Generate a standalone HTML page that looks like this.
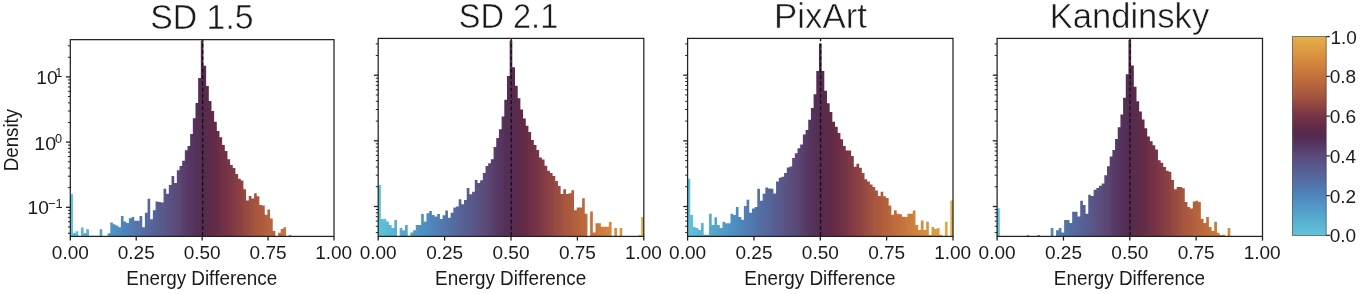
<!DOCTYPE html>
<html><head><meta charset="utf-8"><style>
html,body{margin:0;padding:0;background:#fff;width:1364px;height:294px;overflow:hidden;position:relative;font-family:"Liberation Sans",sans-serif;}
</style></head><body>
<svg width="1364" height="294" viewBox="0 0 1364 294" style="position:absolute;left:0;top:0;will-change:transform">
<defs><linearGradient id="g0" gradientUnits="userSpaceOnUse" x1="70.3" y1="0" x2="334" y2="0">
<stop offset="0.00000" stop-color="#5fc2db"/><stop offset="0.01010" stop-color="#5fc2db"/>
<stop offset="0.01010" stop-color="#5ebfda"/><stop offset="0.02020" stop-color="#5ebfda"/>
<stop offset="0.02020" stop-color="#5dbcd8"/><stop offset="0.03030" stop-color="#5dbcd8"/>
<stop offset="0.03030" stop-color="#5cb9d6"/><stop offset="0.04040" stop-color="#5cb9d6"/>
<stop offset="0.04040" stop-color="#5bb6d5"/><stop offset="0.05051" stop-color="#5bb6d5"/>
<stop offset="0.05051" stop-color="#5ab3d3"/><stop offset="0.06061" stop-color="#5ab3d3"/>
<stop offset="0.06061" stop-color="#59b0d1"/><stop offset="0.07071" stop-color="#59b0d1"/>
<stop offset="0.07071" stop-color="#58add0"/><stop offset="0.08081" stop-color="#58add0"/>
<stop offset="0.08081" stop-color="#57aace"/><stop offset="0.09091" stop-color="#57aace"/>
<stop offset="0.09091" stop-color="#55a7cd"/><stop offset="0.10101" stop-color="#55a7cd"/>
<stop offset="0.10101" stop-color="#55a4cb"/><stop offset="0.11111" stop-color="#55a4cb"/>
<stop offset="0.11111" stop-color="#54a1ca"/><stop offset="0.12121" stop-color="#54a1ca"/>
<stop offset="0.12121" stop-color="#539ec8"/><stop offset="0.13131" stop-color="#539ec8"/>
<stop offset="0.13131" stop-color="#529ac7"/><stop offset="0.14141" stop-color="#529ac7"/>
<stop offset="0.14141" stop-color="#5297c5"/><stop offset="0.15152" stop-color="#5297c5"/>
<stop offset="0.15152" stop-color="#5194c4"/><stop offset="0.16162" stop-color="#5194c4"/>
<stop offset="0.16162" stop-color="#5091c2"/><stop offset="0.17172" stop-color="#5091c2"/>
<stop offset="0.17172" stop-color="#508dc0"/><stop offset="0.18182" stop-color="#508dc0"/>
<stop offset="0.18182" stop-color="#4f8abf"/><stop offset="0.19192" stop-color="#4f8abf"/>
<stop offset="0.19192" stop-color="#4e87bd"/><stop offset="0.20202" stop-color="#4e87bd"/>
<stop offset="0.20202" stop-color="#4e84bb"/><stop offset="0.21212" stop-color="#4e84bb"/>
<stop offset="0.21212" stop-color="#4f81b7"/><stop offset="0.22222" stop-color="#4f81b7"/>
<stop offset="0.22222" stop-color="#507db4"/><stop offset="0.23232" stop-color="#507db4"/>
<stop offset="0.23232" stop-color="#517ab1"/><stop offset="0.24242" stop-color="#517ab1"/>
<stop offset="0.24242" stop-color="#5177ad"/><stop offset="0.25253" stop-color="#5177ad"/>
<stop offset="0.25253" stop-color="#5274aa"/><stop offset="0.26263" stop-color="#5274aa"/>
<stop offset="0.26263" stop-color="#5370a7"/><stop offset="0.27273" stop-color="#5370a7"/>
<stop offset="0.27273" stop-color="#536da3"/><stop offset="0.28283" stop-color="#536da3"/>
<stop offset="0.28283" stop-color="#546aa0"/><stop offset="0.29293" stop-color="#546aa0"/>
<stop offset="0.29293" stop-color="#55679d"/><stop offset="0.30303" stop-color="#55679d"/>
<stop offset="0.30303" stop-color="#556499"/><stop offset="0.31313" stop-color="#556499"/>
<stop offset="0.31313" stop-color="#566196"/><stop offset="0.32323" stop-color="#566196"/>
<stop offset="0.32323" stop-color="#575e92"/><stop offset="0.33333" stop-color="#575e92"/>
<stop offset="0.33333" stop-color="#575c8f"/><stop offset="0.34343" stop-color="#575c8f"/>
<stop offset="0.34343" stop-color="#58598c"/><stop offset="0.35354" stop-color="#58598c"/>
<stop offset="0.35354" stop-color="#595688"/><stop offset="0.36364" stop-color="#595688"/>
<stop offset="0.36364" stop-color="#595385"/><stop offset="0.37374" stop-color="#595385"/>
<stop offset="0.37374" stop-color="#5a5181"/><stop offset="0.38384" stop-color="#5a5181"/>
<stop offset="0.38384" stop-color="#5a4e7e"/><stop offset="0.39394" stop-color="#5a4e7e"/>
<stop offset="0.39394" stop-color="#5b4b7a"/><stop offset="0.40404" stop-color="#5b4b7a"/>
<stop offset="0.40404" stop-color="#5a4876"/><stop offset="0.41414" stop-color="#5a4876"/>
<stop offset="0.41414" stop-color="#594472"/><stop offset="0.42424" stop-color="#594472"/>
<stop offset="0.42424" stop-color="#58406d"/><stop offset="0.43434" stop-color="#58406d"/>
<stop offset="0.43434" stop-color="#573c69"/><stop offset="0.44444" stop-color="#573c69"/>
<stop offset="0.44444" stop-color="#563864"/><stop offset="0.45455" stop-color="#563864"/>
<stop offset="0.45455" stop-color="#553660"/><stop offset="0.46465" stop-color="#553660"/>
<stop offset="0.46465" stop-color="#55335c"/><stop offset="0.47475" stop-color="#55335c"/>
<stop offset="0.47475" stop-color="#543058"/><stop offset="0.48485" stop-color="#543058"/>
<stop offset="0.48485" stop-color="#542e54"/><stop offset="0.49495" stop-color="#542e54"/>
<stop offset="0.49495" stop-color="#532b50"/><stop offset="0.50505" stop-color="#532b50"/>
<stop offset="0.50505" stop-color="#562b4e"/><stop offset="0.51515" stop-color="#562b4e"/>
<stop offset="0.51515" stop-color="#5a2b4c"/><stop offset="0.52525" stop-color="#5a2b4c"/>
<stop offset="0.52525" stop-color="#5d2b4a"/><stop offset="0.53535" stop-color="#5d2b4a"/>
<stop offset="0.53535" stop-color="#612b48"/><stop offset="0.54545" stop-color="#612b48"/>
<stop offset="0.54545" stop-color="#642b46"/><stop offset="0.55556" stop-color="#642b46"/>
<stop offset="0.55556" stop-color="#682d46"/><stop offset="0.56566" stop-color="#682d46"/>
<stop offset="0.56566" stop-color="#6c2f46"/><stop offset="0.57576" stop-color="#6c2f46"/>
<stop offset="0.57576" stop-color="#703146"/><stop offset="0.58586" stop-color="#703146"/>
<stop offset="0.58586" stop-color="#743246"/><stop offset="0.59596" stop-color="#743246"/>
<stop offset="0.59596" stop-color="#783446"/><stop offset="0.60606" stop-color="#783446"/>
<stop offset="0.60606" stop-color="#7d3845"/><stop offset="0.61616" stop-color="#7d3845"/>
<stop offset="0.61616" stop-color="#823b45"/><stop offset="0.62626" stop-color="#823b45"/>
<stop offset="0.62626" stop-color="#863e44"/><stop offset="0.63636" stop-color="#863e44"/>
<stop offset="0.63636" stop-color="#8b4143"/><stop offset="0.64646" stop-color="#8b4143"/>
<stop offset="0.64646" stop-color="#8f4442"/><stop offset="0.65657" stop-color="#8f4442"/>
<stop offset="0.65657" stop-color="#944842"/><stop offset="0.66667" stop-color="#944842"/>
<stop offset="0.66667" stop-color="#984b41"/><stop offset="0.67677" stop-color="#984b41"/>
<stop offset="0.67677" stop-color="#9d4e40"/><stop offset="0.68687" stop-color="#9d4e40"/>
<stop offset="0.68687" stop-color="#a15140"/><stop offset="0.69697" stop-color="#a15140"/>
<stop offset="0.69697" stop-color="#a6553f"/><stop offset="0.70707" stop-color="#a6553f"/>
<stop offset="0.70707" stop-color="#a9573f"/><stop offset="0.71717" stop-color="#a9573f"/>
<stop offset="0.71717" stop-color="#ac5a3e"/><stop offset="0.72727" stop-color="#ac5a3e"/>
<stop offset="0.72727" stop-color="#af5d3e"/><stop offset="0.73737" stop-color="#af5d3e"/>
<stop offset="0.73737" stop-color="#b2603e"/><stop offset="0.74747" stop-color="#b2603e"/>
<stop offset="0.74747" stop-color="#b5633d"/><stop offset="0.75758" stop-color="#b5633d"/>
<stop offset="0.75758" stop-color="#b8663d"/><stop offset="0.76768" stop-color="#b8663d"/>
<stop offset="0.76768" stop-color="#bc683d"/><stop offset="0.77778" stop-color="#bc683d"/>
<stop offset="0.77778" stop-color="#bf6b3d"/><stop offset="0.78788" stop-color="#bf6b3d"/>
<stop offset="0.78788" stop-color="#c26e3c"/><stop offset="0.79798" stop-color="#c26e3c"/>
<stop offset="0.79798" stop-color="#c5713c"/><stop offset="0.80808" stop-color="#c5713c"/>
<stop offset="0.80808" stop-color="#c7743c"/><stop offset="0.81818" stop-color="#c7743c"/>
<stop offset="0.81818" stop-color="#c9773c"/><stop offset="0.82828" stop-color="#c9773c"/>
<stop offset="0.82828" stop-color="#cb7b3d"/><stop offset="0.83838" stop-color="#cb7b3d"/>
<stop offset="0.83838" stop-color="#cd7e3d"/><stop offset="0.84848" stop-color="#cd7e3d"/>
<stop offset="0.84848" stop-color="#cf813d"/><stop offset="0.85859" stop-color="#cf813d"/>
<stop offset="0.85859" stop-color="#d1843d"/><stop offset="0.86869" stop-color="#d1843d"/>
<stop offset="0.86869" stop-color="#d3883d"/><stop offset="0.87879" stop-color="#d3883d"/>
<stop offset="0.87879" stop-color="#d68b3e"/><stop offset="0.88889" stop-color="#d68b3e"/>
<stop offset="0.88889" stop-color="#d88e3e"/><stop offset="0.89899" stop-color="#d88e3e"/>
<stop offset="0.89899" stop-color="#d9913e"/><stop offset="0.90909" stop-color="#d9913e"/>
<stop offset="0.90909" stop-color="#da9540"/><stop offset="0.91919" stop-color="#da9540"/>
<stop offset="0.91919" stop-color="#db9841"/><stop offset="0.92929" stop-color="#db9841"/>
<stop offset="0.92929" stop-color="#dc9b42"/><stop offset="0.93939" stop-color="#dc9b42"/>
<stop offset="0.93939" stop-color="#dd9e43"/><stop offset="0.94949" stop-color="#dd9e43"/>
<stop offset="0.94949" stop-color="#dea145"/><stop offset="0.95960" stop-color="#dea145"/>
<stop offset="0.95960" stop-color="#dfa546"/><stop offset="0.96970" stop-color="#dfa546"/>
<stop offset="0.96970" stop-color="#e0a847"/><stop offset="0.97980" stop-color="#e0a847"/>
<stop offset="0.97980" stop-color="#e1ab48"/><stop offset="0.98990" stop-color="#e1ab48"/>
<stop offset="0.98990" stop-color="#e2ae49"/><stop offset="1.00000" stop-color="#e2ae49"/>
</linearGradient></defs>
<path d="M70.3 236.4V193.9H72.96V236.4ZM72.96 236.4V233H75.63V236.4ZM75.63 236.4V231.3H78.29V236.4ZM80.95 236.4V227.5H83.62V236.4ZM83.62 236.4V233H86.28V236.4ZM86.28 236.4V229.2H88.95V236.4ZM91.61 236.4V235.7H94.27V236.4ZM99.6 236.4V229.2H102.26V236.4ZM107.59 236.4V233.3H110.25V236.4ZM110.25 236.4V222.6H112.92V236.4ZM112.92 236.4V224.2H115.58V236.4ZM115.58 236.4V225.5H118.25V236.4ZM118.25 236.4V227.3H120.91V236.4ZM120.91 236.4V216.1H123.57V236.4ZM123.57 236.4V221.4H126.24V236.4ZM126.24 236.4V222.9H128.9V236.4ZM128.9 236.4V218.2H131.56V236.4ZM131.56 236.4V217.1H134.23V236.4ZM134.23 236.4V220.8H136.89V236.4ZM136.89 236.4V220.8H139.55V236.4ZM139.55 236.4V216.1H142.22V236.4ZM142.22 236.4V227.3H144.88V236.4ZM144.88 236.4V212.7H147.55V236.4ZM147.55 236.4V198.8H150.21V236.4ZM150.21 236.4V219.2H152.87V236.4ZM152.87 236.4V210.2H155.54V236.4ZM155.54 236.4V201.4H158.2V236.4ZM158.2 236.4V202H160.86V236.4ZM160.86 236.4V202.4H163.53V236.4ZM163.53 236.4V188.8H166.19V236.4ZM166.19 236.4V193.7H168.85V236.4ZM168.85 236.4V185.1H171.52V236.4ZM171.52 236.4V176H174.18V236.4ZM174.18 236.4V183.1H176.85V236.4ZM176.85 236.4V170.2H179.51V236.4ZM179.51 236.4V166.1H182.17V236.4ZM182.17 236.4V160.7H184.84V236.4ZM184.84 236.4V150.2H187.5V236.4ZM187.5 236.4V146.1H190.16V236.4ZM190.16 236.4V134.1H192.83V236.4ZM192.83 236.4V118.3H195.49V236.4ZM195.49 236.4V103H198.15V236.4ZM198.15 236.4V77.9H200.82V236.4ZM200.82 236.4V40.5H203.48V236.4ZM203.48 236.4V65.7H206.15V236.4ZM206.15 236.4V86.1H208.81V236.4ZM208.81 236.4V101H211.47V236.4ZM211.47 236.4V111.1H214.14V236.4ZM214.14 236.4V121.7H216.8V236.4ZM216.8 236.4V131.1H219.46V236.4ZM219.46 236.4V137.3H222.13V236.4ZM222.13 236.4V144.9H224.79V236.4ZM224.79 236.4V151H227.45V236.4ZM227.45 236.4V159.2H230.12V236.4ZM230.12 236.4V164.9H232.78V236.4ZM232.78 236.4V168H235.45V236.4ZM235.45 236.4V174.1H238.11V236.4ZM238.11 236.4V178.8H240.77V236.4ZM240.77 236.4V180.5H243.44V236.4ZM243.44 236.4V189.2H246.1V236.4ZM246.1 236.4V200.4H248.76V236.4ZM248.76 236.4V195.9H251.43V236.4ZM251.43 236.4V198.4H254.09V236.4ZM254.09 236.4V193.3H256.75V236.4ZM256.75 236.4V196.3H259.42V236.4ZM259.42 236.4V204.9H262.08V236.4ZM262.08 236.4V205.5H264.75V236.4ZM264.75 236.4V214.7H267.41V236.4ZM267.41 236.4V209.6H270.07V236.4ZM270.07 236.4V218.4H272.74V236.4ZM272.74 236.4V231H275.4V236.4ZM278.06 236.4V232.7H280.73V236.4ZM280.73 236.4V229H283.39V236.4ZM283.39 236.4V227.3H286.05V236.4ZM288.72 236.4V235H291.38V236.4Z" fill="url(#g0)"/>
<line x1="202.65" y1="236.4" x2="202.65" y2="39.65" stroke="#111" stroke-width="1.25" stroke-dasharray="3.9,2.38" stroke-dashoffset="5.83"/>
<rect x="70.3" y="39.65" width="263.7" height="196.75" fill="none" stroke="#222" stroke-width="1.25"/>
<line x1="70.3" y1="236.4" x2="70.3" y2="240.6" stroke="#222" stroke-width="1.3"/>
<text transform="translate(51.81 259.30) scale(1.0000 1)" font-size="19.00" font-family="Liberation Sans, sans-serif" fill="#1a1a1a" style="font-kerning:none" >0.00</text>
<line x1="136.22" y1="236.4" x2="136.22" y2="240.6" stroke="#222" stroke-width="1.3"/>
<text transform="translate(117.76 259.30) scale(1.0000 1)" font-size="19.00" font-family="Liberation Sans, sans-serif" fill="#1a1a1a" style="font-kerning:none" >0.25</text>
<line x1="202.15" y1="236.4" x2="202.15" y2="240.6" stroke="#222" stroke-width="1.3"/>
<text transform="translate(183.66 259.30) scale(1.0000 1)" font-size="19.00" font-family="Liberation Sans, sans-serif" fill="#1a1a1a" style="font-kerning:none" >0.50</text>
<line x1="268.07" y1="236.4" x2="268.07" y2="240.6" stroke="#222" stroke-width="1.3"/>
<text transform="translate(249.61 259.30) scale(1.0000 1)" font-size="19.00" font-family="Liberation Sans, sans-serif" fill="#1a1a1a" style="font-kerning:none" >0.75</text>
<line x1="334" y1="236.4" x2="334" y2="240.6" stroke="#222" stroke-width="1.3"/>
<text transform="translate(315.16 259.30) scale(1.0000 1)" font-size="19.00" font-family="Liberation Sans, sans-serif" fill="#1a1a1a" style="font-kerning:none" >1.00</text>
<line x1="67.9" y1="233.25" x2="70.3" y2="233.25" stroke="#222" stroke-width="1.0"/>
<line x1="67.9" y1="226.93" x2="70.3" y2="226.93" stroke="#222" stroke-width="1.0"/>
<line x1="67.9" y1="221.76" x2="70.3" y2="221.76" stroke="#222" stroke-width="1.0"/>
<line x1="67.9" y1="217.4" x2="70.3" y2="217.4" stroke="#222" stroke-width="1.0"/>
<line x1="67.9" y1="213.62" x2="70.3" y2="213.62" stroke="#222" stroke-width="1.0"/>
<line x1="67.9" y1="210.28" x2="70.3" y2="210.28" stroke="#222" stroke-width="1.0"/>
<line x1="66" y1="207.3" x2="70.3" y2="207.3" stroke="#222" stroke-width="1.3"/>
<line x1="67.9" y1="187.67" x2="70.3" y2="187.67" stroke="#222" stroke-width="1.0"/>
<line x1="67.9" y1="176.19" x2="70.3" y2="176.19" stroke="#222" stroke-width="1.0"/>
<line x1="67.9" y1="168.05" x2="70.3" y2="168.05" stroke="#222" stroke-width="1.0"/>
<line x1="67.9" y1="161.73" x2="70.3" y2="161.73" stroke="#222" stroke-width="1.0"/>
<line x1="67.9" y1="156.56" x2="70.3" y2="156.56" stroke="#222" stroke-width="1.0"/>
<line x1="67.9" y1="152.2" x2="70.3" y2="152.2" stroke="#222" stroke-width="1.0"/>
<line x1="67.9" y1="148.42" x2="70.3" y2="148.42" stroke="#222" stroke-width="1.0"/>
<line x1="67.9" y1="145.08" x2="70.3" y2="145.08" stroke="#222" stroke-width="1.0"/>
<line x1="66" y1="142.1" x2="70.3" y2="142.1" stroke="#222" stroke-width="1.3"/>
<line x1="67.9" y1="122.47" x2="70.3" y2="122.47" stroke="#222" stroke-width="1.0"/>
<line x1="67.9" y1="110.99" x2="70.3" y2="110.99" stroke="#222" stroke-width="1.0"/>
<line x1="67.9" y1="102.85" x2="70.3" y2="102.85" stroke="#222" stroke-width="1.0"/>
<line x1="67.9" y1="96.53" x2="70.3" y2="96.53" stroke="#222" stroke-width="1.0"/>
<line x1="67.9" y1="91.36" x2="70.3" y2="91.36" stroke="#222" stroke-width="1.0"/>
<line x1="67.9" y1="87" x2="70.3" y2="87" stroke="#222" stroke-width="1.0"/>
<line x1="67.9" y1="83.22" x2="70.3" y2="83.22" stroke="#222" stroke-width="1.0"/>
<line x1="67.9" y1="79.88" x2="70.3" y2="79.88" stroke="#222" stroke-width="1.0"/>
<line x1="66" y1="76.9" x2="70.3" y2="76.9" stroke="#222" stroke-width="1.3"/>
<line x1="67.9" y1="57.27" x2="70.3" y2="57.27" stroke="#222" stroke-width="1.0"/>
<line x1="67.9" y1="45.79" x2="70.3" y2="45.79" stroke="#222" stroke-width="1.0"/>
<text transform="translate(150.16 28.90) scale(0.9453 1)" font-size="35.80" font-family="Liberation Sans, sans-serif" fill="#1a1a1a" style="font-kerning:none"  stroke="#fff" stroke-width="0.5">SD 1.5</text>
<text transform="translate(126.35 284.80) scale(0.9628 1)" font-size="19.60" font-family="Liberation Sans, sans-serif" fill="#1a1a1a" style="font-kerning:none" >Energy Difference</text>
<defs><linearGradient id="g1" gradientUnits="userSpaceOnUse" x1="378.2" y1="0" x2="643.8" y2="0">
<stop offset="0.00000" stop-color="#5fc2db"/><stop offset="0.01010" stop-color="#5fc2db"/>
<stop offset="0.01010" stop-color="#5ebfda"/><stop offset="0.02020" stop-color="#5ebfda"/>
<stop offset="0.02020" stop-color="#5dbcd8"/><stop offset="0.03030" stop-color="#5dbcd8"/>
<stop offset="0.03030" stop-color="#5cb9d6"/><stop offset="0.04040" stop-color="#5cb9d6"/>
<stop offset="0.04040" stop-color="#5bb6d5"/><stop offset="0.05051" stop-color="#5bb6d5"/>
<stop offset="0.05051" stop-color="#5ab3d3"/><stop offset="0.06061" stop-color="#5ab3d3"/>
<stop offset="0.06061" stop-color="#59b0d1"/><stop offset="0.07071" stop-color="#59b0d1"/>
<stop offset="0.07071" stop-color="#58add0"/><stop offset="0.08081" stop-color="#58add0"/>
<stop offset="0.08081" stop-color="#57aace"/><stop offset="0.09091" stop-color="#57aace"/>
<stop offset="0.09091" stop-color="#55a7cd"/><stop offset="0.10101" stop-color="#55a7cd"/>
<stop offset="0.10101" stop-color="#55a4cb"/><stop offset="0.11111" stop-color="#55a4cb"/>
<stop offset="0.11111" stop-color="#54a1ca"/><stop offset="0.12121" stop-color="#54a1ca"/>
<stop offset="0.12121" stop-color="#539ec8"/><stop offset="0.13131" stop-color="#539ec8"/>
<stop offset="0.13131" stop-color="#529ac7"/><stop offset="0.14141" stop-color="#529ac7"/>
<stop offset="0.14141" stop-color="#5297c5"/><stop offset="0.15152" stop-color="#5297c5"/>
<stop offset="0.15152" stop-color="#5194c4"/><stop offset="0.16162" stop-color="#5194c4"/>
<stop offset="0.16162" stop-color="#5091c2"/><stop offset="0.17172" stop-color="#5091c2"/>
<stop offset="0.17172" stop-color="#508dc0"/><stop offset="0.18182" stop-color="#508dc0"/>
<stop offset="0.18182" stop-color="#4f8abf"/><stop offset="0.19192" stop-color="#4f8abf"/>
<stop offset="0.19192" stop-color="#4e87bd"/><stop offset="0.20202" stop-color="#4e87bd"/>
<stop offset="0.20202" stop-color="#4e84bb"/><stop offset="0.21212" stop-color="#4e84bb"/>
<stop offset="0.21212" stop-color="#4f81b7"/><stop offset="0.22222" stop-color="#4f81b7"/>
<stop offset="0.22222" stop-color="#507db4"/><stop offset="0.23232" stop-color="#507db4"/>
<stop offset="0.23232" stop-color="#517ab1"/><stop offset="0.24242" stop-color="#517ab1"/>
<stop offset="0.24242" stop-color="#5177ad"/><stop offset="0.25253" stop-color="#5177ad"/>
<stop offset="0.25253" stop-color="#5274aa"/><stop offset="0.26263" stop-color="#5274aa"/>
<stop offset="0.26263" stop-color="#5370a7"/><stop offset="0.27273" stop-color="#5370a7"/>
<stop offset="0.27273" stop-color="#536da3"/><stop offset="0.28283" stop-color="#536da3"/>
<stop offset="0.28283" stop-color="#546aa0"/><stop offset="0.29293" stop-color="#546aa0"/>
<stop offset="0.29293" stop-color="#55679d"/><stop offset="0.30303" stop-color="#55679d"/>
<stop offset="0.30303" stop-color="#556499"/><stop offset="0.31313" stop-color="#556499"/>
<stop offset="0.31313" stop-color="#566196"/><stop offset="0.32323" stop-color="#566196"/>
<stop offset="0.32323" stop-color="#575e92"/><stop offset="0.33333" stop-color="#575e92"/>
<stop offset="0.33333" stop-color="#575c8f"/><stop offset="0.34343" stop-color="#575c8f"/>
<stop offset="0.34343" stop-color="#58598c"/><stop offset="0.35354" stop-color="#58598c"/>
<stop offset="0.35354" stop-color="#595688"/><stop offset="0.36364" stop-color="#595688"/>
<stop offset="0.36364" stop-color="#595385"/><stop offset="0.37374" stop-color="#595385"/>
<stop offset="0.37374" stop-color="#5a5181"/><stop offset="0.38384" stop-color="#5a5181"/>
<stop offset="0.38384" stop-color="#5a4e7e"/><stop offset="0.39394" stop-color="#5a4e7e"/>
<stop offset="0.39394" stop-color="#5b4b7a"/><stop offset="0.40404" stop-color="#5b4b7a"/>
<stop offset="0.40404" stop-color="#5a4876"/><stop offset="0.41414" stop-color="#5a4876"/>
<stop offset="0.41414" stop-color="#594472"/><stop offset="0.42424" stop-color="#594472"/>
<stop offset="0.42424" stop-color="#58406d"/><stop offset="0.43434" stop-color="#58406d"/>
<stop offset="0.43434" stop-color="#573c69"/><stop offset="0.44444" stop-color="#573c69"/>
<stop offset="0.44444" stop-color="#563864"/><stop offset="0.45455" stop-color="#563864"/>
<stop offset="0.45455" stop-color="#553660"/><stop offset="0.46465" stop-color="#553660"/>
<stop offset="0.46465" stop-color="#55335c"/><stop offset="0.47475" stop-color="#55335c"/>
<stop offset="0.47475" stop-color="#543058"/><stop offset="0.48485" stop-color="#543058"/>
<stop offset="0.48485" stop-color="#542e54"/><stop offset="0.49495" stop-color="#542e54"/>
<stop offset="0.49495" stop-color="#532b50"/><stop offset="0.50505" stop-color="#532b50"/>
<stop offset="0.50505" stop-color="#562b4e"/><stop offset="0.51515" stop-color="#562b4e"/>
<stop offset="0.51515" stop-color="#5a2b4c"/><stop offset="0.52525" stop-color="#5a2b4c"/>
<stop offset="0.52525" stop-color="#5d2b4a"/><stop offset="0.53535" stop-color="#5d2b4a"/>
<stop offset="0.53535" stop-color="#612b48"/><stop offset="0.54545" stop-color="#612b48"/>
<stop offset="0.54545" stop-color="#642b46"/><stop offset="0.55556" stop-color="#642b46"/>
<stop offset="0.55556" stop-color="#682d46"/><stop offset="0.56566" stop-color="#682d46"/>
<stop offset="0.56566" stop-color="#6c2f46"/><stop offset="0.57576" stop-color="#6c2f46"/>
<stop offset="0.57576" stop-color="#703146"/><stop offset="0.58586" stop-color="#703146"/>
<stop offset="0.58586" stop-color="#743246"/><stop offset="0.59596" stop-color="#743246"/>
<stop offset="0.59596" stop-color="#783446"/><stop offset="0.60606" stop-color="#783446"/>
<stop offset="0.60606" stop-color="#7d3845"/><stop offset="0.61616" stop-color="#7d3845"/>
<stop offset="0.61616" stop-color="#823b45"/><stop offset="0.62626" stop-color="#823b45"/>
<stop offset="0.62626" stop-color="#863e44"/><stop offset="0.63636" stop-color="#863e44"/>
<stop offset="0.63636" stop-color="#8b4143"/><stop offset="0.64646" stop-color="#8b4143"/>
<stop offset="0.64646" stop-color="#8f4442"/><stop offset="0.65657" stop-color="#8f4442"/>
<stop offset="0.65657" stop-color="#944842"/><stop offset="0.66667" stop-color="#944842"/>
<stop offset="0.66667" stop-color="#984b41"/><stop offset="0.67677" stop-color="#984b41"/>
<stop offset="0.67677" stop-color="#9d4e40"/><stop offset="0.68687" stop-color="#9d4e40"/>
<stop offset="0.68687" stop-color="#a15140"/><stop offset="0.69697" stop-color="#a15140"/>
<stop offset="0.69697" stop-color="#a6553f"/><stop offset="0.70707" stop-color="#a6553f"/>
<stop offset="0.70707" stop-color="#a9573f"/><stop offset="0.71717" stop-color="#a9573f"/>
<stop offset="0.71717" stop-color="#ac5a3e"/><stop offset="0.72727" stop-color="#ac5a3e"/>
<stop offset="0.72727" stop-color="#af5d3e"/><stop offset="0.73737" stop-color="#af5d3e"/>
<stop offset="0.73737" stop-color="#b2603e"/><stop offset="0.74747" stop-color="#b2603e"/>
<stop offset="0.74747" stop-color="#b5633d"/><stop offset="0.75758" stop-color="#b5633d"/>
<stop offset="0.75758" stop-color="#b8663d"/><stop offset="0.76768" stop-color="#b8663d"/>
<stop offset="0.76768" stop-color="#bc683d"/><stop offset="0.77778" stop-color="#bc683d"/>
<stop offset="0.77778" stop-color="#bf6b3d"/><stop offset="0.78788" stop-color="#bf6b3d"/>
<stop offset="0.78788" stop-color="#c26e3c"/><stop offset="0.79798" stop-color="#c26e3c"/>
<stop offset="0.79798" stop-color="#c5713c"/><stop offset="0.80808" stop-color="#c5713c"/>
<stop offset="0.80808" stop-color="#c7743c"/><stop offset="0.81818" stop-color="#c7743c"/>
<stop offset="0.81818" stop-color="#c9773c"/><stop offset="0.82828" stop-color="#c9773c"/>
<stop offset="0.82828" stop-color="#cb7b3d"/><stop offset="0.83838" stop-color="#cb7b3d"/>
<stop offset="0.83838" stop-color="#cd7e3d"/><stop offset="0.84848" stop-color="#cd7e3d"/>
<stop offset="0.84848" stop-color="#cf813d"/><stop offset="0.85859" stop-color="#cf813d"/>
<stop offset="0.85859" stop-color="#d1843d"/><stop offset="0.86869" stop-color="#d1843d"/>
<stop offset="0.86869" stop-color="#d3883d"/><stop offset="0.87879" stop-color="#d3883d"/>
<stop offset="0.87879" stop-color="#d68b3e"/><stop offset="0.88889" stop-color="#d68b3e"/>
<stop offset="0.88889" stop-color="#d88e3e"/><stop offset="0.89899" stop-color="#d88e3e"/>
<stop offset="0.89899" stop-color="#d9913e"/><stop offset="0.90909" stop-color="#d9913e"/>
<stop offset="0.90909" stop-color="#da9540"/><stop offset="0.91919" stop-color="#da9540"/>
<stop offset="0.91919" stop-color="#db9841"/><stop offset="0.92929" stop-color="#db9841"/>
<stop offset="0.92929" stop-color="#dc9b42"/><stop offset="0.93939" stop-color="#dc9b42"/>
<stop offset="0.93939" stop-color="#dd9e43"/><stop offset="0.94949" stop-color="#dd9e43"/>
<stop offset="0.94949" stop-color="#dea145"/><stop offset="0.95960" stop-color="#dea145"/>
<stop offset="0.95960" stop-color="#dfa546"/><stop offset="0.96970" stop-color="#dfa546"/>
<stop offset="0.96970" stop-color="#e0a847"/><stop offset="0.97980" stop-color="#e0a847"/>
<stop offset="0.97980" stop-color="#e1ab48"/><stop offset="0.98990" stop-color="#e1ab48"/>
<stop offset="0.98990" stop-color="#e2ae49"/><stop offset="1.00000" stop-color="#e2ae49"/>
</linearGradient></defs>
<path d="M378.2 236.4V185.1H380.88V236.4ZM380.88 236.4V219H383.57V236.4ZM383.57 236.4V219H386.25V236.4ZM386.25 236.4V221.6H388.93V236.4ZM388.93 236.4V225.1H391.61V236.4ZM391.61 236.4V228H394.3V236.4ZM394.3 236.4V220.1H396.98V236.4ZM399.66 236.4V228H402.35V236.4ZM402.35 236.4V230.3H405.03V236.4ZM405.03 236.4V224.9H407.71V236.4ZM407.71 236.4V235.8H410.39V236.4ZM410.39 236.4V232.4H413.08V236.4ZM413.08 236.4V230.3H415.76V236.4ZM415.76 236.4V225.1H418.44V236.4ZM418.44 236.4V225.1H421.13V236.4ZM421.13 236.4V213.9H423.81V236.4ZM423.81 236.4V221.6H426.49V236.4ZM426.49 236.4V213.2H429.17V236.4ZM429.17 236.4V210.9H431.86V236.4ZM431.86 236.4V215H434.54V236.4ZM434.54 236.4V216.6H437.22V236.4ZM437.22 236.4V213.9H439.91V236.4ZM439.91 236.4V219H442.59V236.4ZM442.59 236.4V215.3H445.27V236.4ZM445.27 236.4V210.6H447.95V236.4ZM447.95 236.4V217.8H450.64V236.4ZM450.64 236.4V212.7H453.32V236.4ZM453.32 236.4V207.6H456V236.4ZM456 236.4V206.5H458.68V236.4ZM458.68 236.4V199.2H461.37V236.4ZM461.37 236.4V204.2H464.05V236.4ZM464.05 236.4V200H466.73V236.4ZM466.73 236.4V188H469.42V236.4ZM469.42 236.4V194.3H472.1V236.4ZM472.1 236.4V191.8H474.78V236.4ZM474.78 236.4V180.1H477.46V236.4ZM477.46 236.4V183.1H480.15V236.4ZM480.15 236.4V180.2H482.83V236.4ZM482.83 236.4V172.9H485.51V236.4ZM485.51 236.4V165.9H488.2V236.4ZM488.2 236.4V163.3H490.88V236.4ZM490.88 236.4V159.2H493.56V236.4ZM493.56 236.4V147.1H496.24V236.4ZM496.24 236.4V138H498.93V236.4ZM498.93 236.4V129.2H501.61V236.4ZM501.61 236.4V116.5H504.29V236.4ZM504.29 236.4V99.8H506.98V236.4ZM506.98 236.4V76.1H509.66V236.4ZM509.66 236.4V40.5H512.34V236.4ZM512.34 236.4V67.3H515.02V236.4ZM515.02 236.4V85.8H517.71V236.4ZM517.71 236.4V98.2H520.39V236.4ZM520.39 236.4V109.4H523.07V236.4ZM523.07 236.4V118.6H525.76V236.4ZM525.76 236.4V125.7H528.44V236.4ZM528.44 236.4V131.9H531.12V236.4ZM531.12 236.4V140.1H533.8V236.4ZM533.8 236.4V144.9H536.49V236.4ZM536.49 236.4V150H539.17V236.4ZM539.17 236.4V157.6H541.85V236.4ZM541.85 236.4V159.6H544.54V236.4ZM544.54 236.4V165.7H547.22V236.4ZM547.22 236.4V170.8H549.9V236.4ZM549.9 236.4V172.9H552.58V236.4ZM552.58 236.4V175.9H555.27V236.4ZM555.27 236.4V181H557.95V236.4ZM557.95 236.4V186.1H560.63V236.4ZM560.63 236.4V193.9H563.32V236.4ZM563.32 236.4V189.2H566V236.4ZM566 236.4V193.9H568.68V236.4ZM568.68 236.4V193.3H571.36V236.4ZM571.36 236.4V190.2H574.05V236.4ZM574.05 236.4V210.2H576.73V236.4ZM576.73 236.4V207.6H579.41V236.4ZM579.41 236.4V207.6H582.09V236.4ZM582.09 236.4V198.3H584.78V236.4ZM584.78 236.4V213.7H587.46V236.4ZM590.14 236.4V211.6H592.83V236.4ZM592.83 236.4V232.4H595.51V236.4ZM595.51 236.4V223.2H598.19V236.4ZM598.19 236.4V223.2H600.87V236.4ZM600.87 236.4V226.7H603.56V236.4ZM603.56 236.4V226.7H606.24V236.4ZM606.24 236.4V226.7H608.92V236.4ZM608.92 236.4V221.9H611.61V236.4ZM614.29 236.4V228.1H616.97V236.4ZM619.65 236.4V228.1H622.34V236.4ZM638.43 236.4V235H641.12V236.4ZM641.12 236.4V217.1H643.8V236.4Z" fill="url(#g1)"/>
<line x1="511.25" y1="236.4" x2="511.25" y2="38.4" stroke="#111" stroke-width="1.25" stroke-dasharray="3.9,2.38" stroke-dashoffset="5.83"/>
<rect x="378.2" y="38.4" width="265.6" height="198" fill="none" stroke="#222" stroke-width="1.25"/>
<line x1="378.2" y1="236.4" x2="378.2" y2="240.6" stroke="#222" stroke-width="1.3"/>
<text transform="translate(359.71 259.30) scale(1.0000 1)" font-size="19.00" font-family="Liberation Sans, sans-serif" fill="#1a1a1a" style="font-kerning:none" >0.00</text>
<line x1="444.6" y1="236.4" x2="444.6" y2="240.6" stroke="#222" stroke-width="1.3"/>
<text transform="translate(426.14 259.30) scale(1.0000 1)" font-size="19.00" font-family="Liberation Sans, sans-serif" fill="#1a1a1a" style="font-kerning:none" >0.25</text>
<line x1="511" y1="236.4" x2="511" y2="240.6" stroke="#222" stroke-width="1.3"/>
<text transform="translate(492.51 259.30) scale(1.0000 1)" font-size="19.00" font-family="Liberation Sans, sans-serif" fill="#1a1a1a" style="font-kerning:none" >0.50</text>
<line x1="577.4" y1="236.4" x2="577.4" y2="240.6" stroke="#222" stroke-width="1.3"/>
<text transform="translate(558.94 259.30) scale(1.0000 1)" font-size="19.00" font-family="Liberation Sans, sans-serif" fill="#1a1a1a" style="font-kerning:none" >0.75</text>
<line x1="643.8" y1="236.4" x2="643.8" y2="240.6" stroke="#222" stroke-width="1.3"/>
<text transform="translate(624.96 259.30) scale(1.0000 1)" font-size="19.00" font-family="Liberation Sans, sans-serif" fill="#1a1a1a" style="font-kerning:none" >1.00</text>
<line x1="375.8" y1="232.62" x2="378.2" y2="232.62" stroke="#222" stroke-width="1.0"/>
<line x1="375.8" y1="226.26" x2="378.2" y2="226.26" stroke="#222" stroke-width="1.0"/>
<line x1="375.8" y1="221.06" x2="378.2" y2="221.06" stroke="#222" stroke-width="1.0"/>
<line x1="375.8" y1="216.67" x2="378.2" y2="216.67" stroke="#222" stroke-width="1.0"/>
<line x1="375.8" y1="212.86" x2="378.2" y2="212.86" stroke="#222" stroke-width="1.0"/>
<line x1="375.8" y1="209.5" x2="378.2" y2="209.5" stroke="#222" stroke-width="1.0"/>
<line x1="373.9" y1="206.5" x2="378.2" y2="206.5" stroke="#222" stroke-width="1.3"/>
<line x1="375.8" y1="186.74" x2="378.2" y2="186.74" stroke="#222" stroke-width="1.0"/>
<line x1="375.8" y1="175.18" x2="378.2" y2="175.18" stroke="#222" stroke-width="1.0"/>
<line x1="375.8" y1="166.97" x2="378.2" y2="166.97" stroke="#222" stroke-width="1.0"/>
<line x1="375.8" y1="160.61" x2="378.2" y2="160.61" stroke="#222" stroke-width="1.0"/>
<line x1="375.8" y1="155.41" x2="378.2" y2="155.41" stroke="#222" stroke-width="1.0"/>
<line x1="375.8" y1="151.02" x2="378.2" y2="151.02" stroke="#222" stroke-width="1.0"/>
<line x1="375.8" y1="147.21" x2="378.2" y2="147.21" stroke="#222" stroke-width="1.0"/>
<line x1="375.8" y1="143.85" x2="378.2" y2="143.85" stroke="#222" stroke-width="1.0"/>
<line x1="373.9" y1="140.85" x2="378.2" y2="140.85" stroke="#222" stroke-width="1.3"/>
<line x1="375.8" y1="121.09" x2="378.2" y2="121.09" stroke="#222" stroke-width="1.0"/>
<line x1="375.8" y1="109.53" x2="378.2" y2="109.53" stroke="#222" stroke-width="1.0"/>
<line x1="375.8" y1="101.32" x2="378.2" y2="101.32" stroke="#222" stroke-width="1.0"/>
<line x1="375.8" y1="94.96" x2="378.2" y2="94.96" stroke="#222" stroke-width="1.0"/>
<line x1="375.8" y1="89.76" x2="378.2" y2="89.76" stroke="#222" stroke-width="1.0"/>
<line x1="375.8" y1="85.37" x2="378.2" y2="85.37" stroke="#222" stroke-width="1.0"/>
<line x1="375.8" y1="81.56" x2="378.2" y2="81.56" stroke="#222" stroke-width="1.0"/>
<line x1="375.8" y1="78.2" x2="378.2" y2="78.2" stroke="#222" stroke-width="1.0"/>
<line x1="373.9" y1="75.2" x2="378.2" y2="75.2" stroke="#222" stroke-width="1.3"/>
<line x1="375.8" y1="55.44" x2="378.2" y2="55.44" stroke="#222" stroke-width="1.0"/>
<line x1="375.8" y1="43.88" x2="378.2" y2="43.88" stroke="#222" stroke-width="1.0"/>
<text transform="translate(458.72 27.80) scale(0.9098 1)" font-size="35.80" font-family="Liberation Sans, sans-serif" fill="#1a1a1a" style="font-kerning:none"  stroke="#fff" stroke-width="0.5">SD 2.1</text>
<text transform="translate(435.05 284.80) scale(0.9637 1)" font-size="19.60" font-family="Liberation Sans, sans-serif" fill="#1a1a1a" style="font-kerning:none" >Energy Difference</text>
<defs><linearGradient id="g2" gradientUnits="userSpaceOnUse" x1="687.6" y1="0" x2="953" y2="0">
<stop offset="0.00000" stop-color="#5fc2db"/><stop offset="0.01010" stop-color="#5fc2db"/>
<stop offset="0.01010" stop-color="#5ebfda"/><stop offset="0.02020" stop-color="#5ebfda"/>
<stop offset="0.02020" stop-color="#5dbcd8"/><stop offset="0.03030" stop-color="#5dbcd8"/>
<stop offset="0.03030" stop-color="#5cb9d6"/><stop offset="0.04040" stop-color="#5cb9d6"/>
<stop offset="0.04040" stop-color="#5bb6d5"/><stop offset="0.05051" stop-color="#5bb6d5"/>
<stop offset="0.05051" stop-color="#5ab3d3"/><stop offset="0.06061" stop-color="#5ab3d3"/>
<stop offset="0.06061" stop-color="#59b0d1"/><stop offset="0.07071" stop-color="#59b0d1"/>
<stop offset="0.07071" stop-color="#58add0"/><stop offset="0.08081" stop-color="#58add0"/>
<stop offset="0.08081" stop-color="#57aace"/><stop offset="0.09091" stop-color="#57aace"/>
<stop offset="0.09091" stop-color="#55a7cd"/><stop offset="0.10101" stop-color="#55a7cd"/>
<stop offset="0.10101" stop-color="#55a4cb"/><stop offset="0.11111" stop-color="#55a4cb"/>
<stop offset="0.11111" stop-color="#54a1ca"/><stop offset="0.12121" stop-color="#54a1ca"/>
<stop offset="0.12121" stop-color="#539ec8"/><stop offset="0.13131" stop-color="#539ec8"/>
<stop offset="0.13131" stop-color="#529ac7"/><stop offset="0.14141" stop-color="#529ac7"/>
<stop offset="0.14141" stop-color="#5297c5"/><stop offset="0.15152" stop-color="#5297c5"/>
<stop offset="0.15152" stop-color="#5194c4"/><stop offset="0.16162" stop-color="#5194c4"/>
<stop offset="0.16162" stop-color="#5091c2"/><stop offset="0.17172" stop-color="#5091c2"/>
<stop offset="0.17172" stop-color="#508dc0"/><stop offset="0.18182" stop-color="#508dc0"/>
<stop offset="0.18182" stop-color="#4f8abf"/><stop offset="0.19192" stop-color="#4f8abf"/>
<stop offset="0.19192" stop-color="#4e87bd"/><stop offset="0.20202" stop-color="#4e87bd"/>
<stop offset="0.20202" stop-color="#4e84bb"/><stop offset="0.21212" stop-color="#4e84bb"/>
<stop offset="0.21212" stop-color="#4f81b7"/><stop offset="0.22222" stop-color="#4f81b7"/>
<stop offset="0.22222" stop-color="#507db4"/><stop offset="0.23232" stop-color="#507db4"/>
<stop offset="0.23232" stop-color="#517ab1"/><stop offset="0.24242" stop-color="#517ab1"/>
<stop offset="0.24242" stop-color="#5177ad"/><stop offset="0.25253" stop-color="#5177ad"/>
<stop offset="0.25253" stop-color="#5274aa"/><stop offset="0.26263" stop-color="#5274aa"/>
<stop offset="0.26263" stop-color="#5370a7"/><stop offset="0.27273" stop-color="#5370a7"/>
<stop offset="0.27273" stop-color="#536da3"/><stop offset="0.28283" stop-color="#536da3"/>
<stop offset="0.28283" stop-color="#546aa0"/><stop offset="0.29293" stop-color="#546aa0"/>
<stop offset="0.29293" stop-color="#55679d"/><stop offset="0.30303" stop-color="#55679d"/>
<stop offset="0.30303" stop-color="#556499"/><stop offset="0.31313" stop-color="#556499"/>
<stop offset="0.31313" stop-color="#566196"/><stop offset="0.32323" stop-color="#566196"/>
<stop offset="0.32323" stop-color="#575e92"/><stop offset="0.33333" stop-color="#575e92"/>
<stop offset="0.33333" stop-color="#575c8f"/><stop offset="0.34343" stop-color="#575c8f"/>
<stop offset="0.34343" stop-color="#58598c"/><stop offset="0.35354" stop-color="#58598c"/>
<stop offset="0.35354" stop-color="#595688"/><stop offset="0.36364" stop-color="#595688"/>
<stop offset="0.36364" stop-color="#595385"/><stop offset="0.37374" stop-color="#595385"/>
<stop offset="0.37374" stop-color="#5a5181"/><stop offset="0.38384" stop-color="#5a5181"/>
<stop offset="0.38384" stop-color="#5a4e7e"/><stop offset="0.39394" stop-color="#5a4e7e"/>
<stop offset="0.39394" stop-color="#5b4b7a"/><stop offset="0.40404" stop-color="#5b4b7a"/>
<stop offset="0.40404" stop-color="#5a4876"/><stop offset="0.41414" stop-color="#5a4876"/>
<stop offset="0.41414" stop-color="#594472"/><stop offset="0.42424" stop-color="#594472"/>
<stop offset="0.42424" stop-color="#58406d"/><stop offset="0.43434" stop-color="#58406d"/>
<stop offset="0.43434" stop-color="#573c69"/><stop offset="0.44444" stop-color="#573c69"/>
<stop offset="0.44444" stop-color="#563864"/><stop offset="0.45455" stop-color="#563864"/>
<stop offset="0.45455" stop-color="#553660"/><stop offset="0.46465" stop-color="#553660"/>
<stop offset="0.46465" stop-color="#55335c"/><stop offset="0.47475" stop-color="#55335c"/>
<stop offset="0.47475" stop-color="#543058"/><stop offset="0.48485" stop-color="#543058"/>
<stop offset="0.48485" stop-color="#542e54"/><stop offset="0.49495" stop-color="#542e54"/>
<stop offset="0.49495" stop-color="#532b50"/><stop offset="0.50505" stop-color="#532b50"/>
<stop offset="0.50505" stop-color="#562b4e"/><stop offset="0.51515" stop-color="#562b4e"/>
<stop offset="0.51515" stop-color="#5a2b4c"/><stop offset="0.52525" stop-color="#5a2b4c"/>
<stop offset="0.52525" stop-color="#5d2b4a"/><stop offset="0.53535" stop-color="#5d2b4a"/>
<stop offset="0.53535" stop-color="#612b48"/><stop offset="0.54545" stop-color="#612b48"/>
<stop offset="0.54545" stop-color="#642b46"/><stop offset="0.55556" stop-color="#642b46"/>
<stop offset="0.55556" stop-color="#682d46"/><stop offset="0.56566" stop-color="#682d46"/>
<stop offset="0.56566" stop-color="#6c2f46"/><stop offset="0.57576" stop-color="#6c2f46"/>
<stop offset="0.57576" stop-color="#703146"/><stop offset="0.58586" stop-color="#703146"/>
<stop offset="0.58586" stop-color="#743246"/><stop offset="0.59596" stop-color="#743246"/>
<stop offset="0.59596" stop-color="#783446"/><stop offset="0.60606" stop-color="#783446"/>
<stop offset="0.60606" stop-color="#7d3845"/><stop offset="0.61616" stop-color="#7d3845"/>
<stop offset="0.61616" stop-color="#823b45"/><stop offset="0.62626" stop-color="#823b45"/>
<stop offset="0.62626" stop-color="#863e44"/><stop offset="0.63636" stop-color="#863e44"/>
<stop offset="0.63636" stop-color="#8b4143"/><stop offset="0.64646" stop-color="#8b4143"/>
<stop offset="0.64646" stop-color="#8f4442"/><stop offset="0.65657" stop-color="#8f4442"/>
<stop offset="0.65657" stop-color="#944842"/><stop offset="0.66667" stop-color="#944842"/>
<stop offset="0.66667" stop-color="#984b41"/><stop offset="0.67677" stop-color="#984b41"/>
<stop offset="0.67677" stop-color="#9d4e40"/><stop offset="0.68687" stop-color="#9d4e40"/>
<stop offset="0.68687" stop-color="#a15140"/><stop offset="0.69697" stop-color="#a15140"/>
<stop offset="0.69697" stop-color="#a6553f"/><stop offset="0.70707" stop-color="#a6553f"/>
<stop offset="0.70707" stop-color="#a9573f"/><stop offset="0.71717" stop-color="#a9573f"/>
<stop offset="0.71717" stop-color="#ac5a3e"/><stop offset="0.72727" stop-color="#ac5a3e"/>
<stop offset="0.72727" stop-color="#af5d3e"/><stop offset="0.73737" stop-color="#af5d3e"/>
<stop offset="0.73737" stop-color="#b2603e"/><stop offset="0.74747" stop-color="#b2603e"/>
<stop offset="0.74747" stop-color="#b5633d"/><stop offset="0.75758" stop-color="#b5633d"/>
<stop offset="0.75758" stop-color="#b8663d"/><stop offset="0.76768" stop-color="#b8663d"/>
<stop offset="0.76768" stop-color="#bc683d"/><stop offset="0.77778" stop-color="#bc683d"/>
<stop offset="0.77778" stop-color="#bf6b3d"/><stop offset="0.78788" stop-color="#bf6b3d"/>
<stop offset="0.78788" stop-color="#c26e3c"/><stop offset="0.79798" stop-color="#c26e3c"/>
<stop offset="0.79798" stop-color="#c5713c"/><stop offset="0.80808" stop-color="#c5713c"/>
<stop offset="0.80808" stop-color="#c7743c"/><stop offset="0.81818" stop-color="#c7743c"/>
<stop offset="0.81818" stop-color="#c9773c"/><stop offset="0.82828" stop-color="#c9773c"/>
<stop offset="0.82828" stop-color="#cb7b3d"/><stop offset="0.83838" stop-color="#cb7b3d"/>
<stop offset="0.83838" stop-color="#cd7e3d"/><stop offset="0.84848" stop-color="#cd7e3d"/>
<stop offset="0.84848" stop-color="#cf813d"/><stop offset="0.85859" stop-color="#cf813d"/>
<stop offset="0.85859" stop-color="#d1843d"/><stop offset="0.86869" stop-color="#d1843d"/>
<stop offset="0.86869" stop-color="#d3883d"/><stop offset="0.87879" stop-color="#d3883d"/>
<stop offset="0.87879" stop-color="#d68b3e"/><stop offset="0.88889" stop-color="#d68b3e"/>
<stop offset="0.88889" stop-color="#d88e3e"/><stop offset="0.89899" stop-color="#d88e3e"/>
<stop offset="0.89899" stop-color="#d9913e"/><stop offset="0.90909" stop-color="#d9913e"/>
<stop offset="0.90909" stop-color="#da9540"/><stop offset="0.91919" stop-color="#da9540"/>
<stop offset="0.91919" stop-color="#db9841"/><stop offset="0.92929" stop-color="#db9841"/>
<stop offset="0.92929" stop-color="#dc9b42"/><stop offset="0.93939" stop-color="#dc9b42"/>
<stop offset="0.93939" stop-color="#dd9e43"/><stop offset="0.94949" stop-color="#dd9e43"/>
<stop offset="0.94949" stop-color="#dea145"/><stop offset="0.95960" stop-color="#dea145"/>
<stop offset="0.95960" stop-color="#dfa546"/><stop offset="0.96970" stop-color="#dfa546"/>
<stop offset="0.96970" stop-color="#e0a847"/><stop offset="0.97980" stop-color="#e0a847"/>
<stop offset="0.97980" stop-color="#e1ab48"/><stop offset="0.98990" stop-color="#e1ab48"/>
<stop offset="0.98990" stop-color="#e2ae49"/><stop offset="1.00000" stop-color="#e2ae49"/>
</linearGradient></defs>
<path d="M687.6 236.4V178.8H690.28V236.4ZM690.28 236.4V215.1H692.96V236.4ZM692.96 236.4V226.9H695.64V236.4ZM695.64 236.4V228H698.32V236.4ZM698.32 236.4V230H701V236.4ZM701 236.4V222.9H703.68V236.4ZM703.68 236.4V234.7H706.37V236.4ZM706.37 236.4V234.7H709.05V236.4ZM709.05 236.4V213.7H711.73V236.4ZM711.73 236.4V224.9H714.41V236.4ZM714.41 236.4V217.3H717.09V236.4ZM717.09 236.4V224.9H719.77V236.4ZM719.77 236.4V228H722.45V236.4ZM722.45 236.4V221.8H725.13V236.4ZM725.13 236.4V223.3H727.81V236.4ZM727.81 236.4V223.3H730.49V236.4ZM730.49 236.4V213.7H733.17V236.4ZM733.17 236.4V215.1H735.85V236.4ZM735.85 236.4V206.9H738.54V236.4ZM738.54 236.4V217.1H741.22V236.4ZM741.22 236.4V219.8H743.9V236.4ZM743.9 236.4V206.1H746.58V236.4ZM746.58 236.4V199.8H749.26V236.4ZM749.26 236.4V212.7H751.94V236.4ZM751.94 236.4V208.6H754.62V236.4ZM754.62 236.4V206.9H757.3V236.4ZM757.3 236.4V188.8H759.98V236.4ZM759.98 236.4V200.8H762.66V236.4ZM762.66 236.4V193.7H765.34V236.4ZM765.34 236.4V187.5H768.02V236.4ZM768.02 236.4V188.6H770.71V236.4ZM770.71 236.4V188.8H773.39V236.4ZM773.39 236.4V193.4H776.07V236.4ZM776.07 236.4V181.5H778.75V236.4ZM778.75 236.4V177.8H781.43V236.4ZM781.43 236.4V176.7H784.11V236.4ZM784.11 236.4V173.1H786.79V236.4ZM786.79 236.4V167.6H789.47V236.4ZM789.47 236.4V166.5H792.15V236.4ZM792.15 236.4V158H794.83V236.4ZM794.83 236.4V153.3H797.51V236.4ZM797.51 236.4V148.2H800.19V236.4ZM800.19 236.4V144.5H802.87V236.4ZM802.87 236.4V134.6H805.56V236.4ZM805.56 236.4V129.9H808.24V236.4ZM808.24 236.4V119.7H810.92V236.4ZM810.92 236.4V108H813.6V236.4ZM813.6 236.4V94.2H816.28V236.4ZM816.28 236.4V71H818.96V236.4ZM818.96 236.4V43.5H821.64V236.4ZM821.64 236.4V71H824.32V236.4ZM824.32 236.4V90.7H827V236.4ZM827 236.4V103.3H829.68V236.4ZM829.68 236.4V112.1H832.36V236.4ZM832.36 236.4V121.7H835.04V236.4ZM835.04 236.4V126.8H837.73V236.4ZM837.73 236.4V133H840.41V236.4ZM840.41 236.4V139.3H843.09V236.4ZM843.09 236.4V146H845.77V236.4ZM845.77 236.4V150.4H848.45V236.4ZM848.45 236.4V150.4H851.13V236.4ZM851.13 236.4V156.1H853.81V236.4ZM853.81 236.4V166.7H856.49V236.4ZM856.49 236.4V163.7H859.17V236.4ZM859.17 236.4V167.8H861.85V236.4ZM861.85 236.4V172.9H864.53V236.4ZM864.53 236.4V179.3H867.21V236.4ZM867.21 236.4V181.5H869.89V236.4ZM869.89 236.4V184.6H872.58V236.4ZM872.58 236.4V187H875.26V236.4ZM875.26 236.4V190.6H877.94V236.4ZM877.94 236.4V195.9H880.62V236.4ZM880.62 236.4V191.8H883.3V236.4ZM883.3 236.4V196.3H885.98V236.4ZM885.98 236.4V198H888.66V236.4ZM888.66 236.4V205.5H891.34V236.4ZM891.34 236.4V214.7H894.02V236.4ZM894.02 236.4V210.2H896.7V236.4ZM896.7 236.4V213.7H899.38V236.4ZM899.38 236.4V214.3H902.06V236.4ZM902.06 236.4V216.7H904.75V236.4ZM904.75 236.4V217.1H907.43V236.4ZM907.43 236.4V213.7H910.11V236.4ZM910.11 236.4V213.7H912.79V236.4ZM912.79 236.4V210.6H915.47V236.4ZM915.47 236.4V224.9H918.15V236.4ZM918.15 236.4V230H920.83V236.4ZM920.83 236.4V220.4H923.51V236.4ZM923.51 236.4V230H926.19V236.4ZM926.19 236.4V221.8H928.87V236.4ZM928.87 236.4V235H931.55V236.4ZM931.55 236.4V226.9H934.23V236.4ZM934.23 236.4V229H936.92V236.4ZM936.92 236.4V228H939.6V236.4ZM939.6 236.4V234.7H942.28V236.4ZM944.96 236.4V221.8H947.64V236.4ZM950.32 236.4V200.4H953V236.4Z" fill="url(#g2)"/>
<line x1="820.55" y1="236.4" x2="820.55" y2="38.4" stroke="#111" stroke-width="1.25" stroke-dasharray="3.9,2.38" stroke-dashoffset="5.83"/>
<rect x="687.6" y="38.4" width="265.4" height="198" fill="none" stroke="#222" stroke-width="1.25"/>
<line x1="687.6" y1="236.4" x2="687.6" y2="240.6" stroke="#222" stroke-width="1.3"/>
<text transform="translate(669.11 259.30) scale(1.0000 1)" font-size="19.00" font-family="Liberation Sans, sans-serif" fill="#1a1a1a" style="font-kerning:none" >0.00</text>
<line x1="753.95" y1="236.4" x2="753.95" y2="240.6" stroke="#222" stroke-width="1.3"/>
<text transform="translate(735.49 259.30) scale(1.0000 1)" font-size="19.00" font-family="Liberation Sans, sans-serif" fill="#1a1a1a" style="font-kerning:none" >0.25</text>
<line x1="820.3" y1="236.4" x2="820.3" y2="240.6" stroke="#222" stroke-width="1.3"/>
<text transform="translate(801.81 259.30) scale(1.0000 1)" font-size="19.00" font-family="Liberation Sans, sans-serif" fill="#1a1a1a" style="font-kerning:none" >0.50</text>
<line x1="886.65" y1="236.4" x2="886.65" y2="240.6" stroke="#222" stroke-width="1.3"/>
<text transform="translate(868.19 259.30) scale(1.0000 1)" font-size="19.00" font-family="Liberation Sans, sans-serif" fill="#1a1a1a" style="font-kerning:none" >0.75</text>
<line x1="953" y1="236.4" x2="953" y2="240.6" stroke="#222" stroke-width="1.3"/>
<text transform="translate(934.16 259.30) scale(1.0000 1)" font-size="19.00" font-family="Liberation Sans, sans-serif" fill="#1a1a1a" style="font-kerning:none" >1.00</text>
<line x1="685.2" y1="232.62" x2="687.6" y2="232.62" stroke="#222" stroke-width="1.0"/>
<line x1="685.2" y1="226.26" x2="687.6" y2="226.26" stroke="#222" stroke-width="1.0"/>
<line x1="685.2" y1="221.06" x2="687.6" y2="221.06" stroke="#222" stroke-width="1.0"/>
<line x1="685.2" y1="216.67" x2="687.6" y2="216.67" stroke="#222" stroke-width="1.0"/>
<line x1="685.2" y1="212.86" x2="687.6" y2="212.86" stroke="#222" stroke-width="1.0"/>
<line x1="685.2" y1="209.5" x2="687.6" y2="209.5" stroke="#222" stroke-width="1.0"/>
<line x1="683.3" y1="206.5" x2="687.6" y2="206.5" stroke="#222" stroke-width="1.3"/>
<line x1="685.2" y1="186.74" x2="687.6" y2="186.74" stroke="#222" stroke-width="1.0"/>
<line x1="685.2" y1="175.18" x2="687.6" y2="175.18" stroke="#222" stroke-width="1.0"/>
<line x1="685.2" y1="166.97" x2="687.6" y2="166.97" stroke="#222" stroke-width="1.0"/>
<line x1="685.2" y1="160.61" x2="687.6" y2="160.61" stroke="#222" stroke-width="1.0"/>
<line x1="685.2" y1="155.41" x2="687.6" y2="155.41" stroke="#222" stroke-width="1.0"/>
<line x1="685.2" y1="151.02" x2="687.6" y2="151.02" stroke="#222" stroke-width="1.0"/>
<line x1="685.2" y1="147.21" x2="687.6" y2="147.21" stroke="#222" stroke-width="1.0"/>
<line x1="685.2" y1="143.85" x2="687.6" y2="143.85" stroke="#222" stroke-width="1.0"/>
<line x1="683.3" y1="140.85" x2="687.6" y2="140.85" stroke="#222" stroke-width="1.3"/>
<line x1="685.2" y1="121.09" x2="687.6" y2="121.09" stroke="#222" stroke-width="1.0"/>
<line x1="685.2" y1="109.53" x2="687.6" y2="109.53" stroke="#222" stroke-width="1.0"/>
<line x1="685.2" y1="101.32" x2="687.6" y2="101.32" stroke="#222" stroke-width="1.0"/>
<line x1="685.2" y1="94.96" x2="687.6" y2="94.96" stroke="#222" stroke-width="1.0"/>
<line x1="685.2" y1="89.76" x2="687.6" y2="89.76" stroke="#222" stroke-width="1.0"/>
<line x1="685.2" y1="85.37" x2="687.6" y2="85.37" stroke="#222" stroke-width="1.0"/>
<line x1="685.2" y1="81.56" x2="687.6" y2="81.56" stroke="#222" stroke-width="1.0"/>
<line x1="685.2" y1="78.2" x2="687.6" y2="78.2" stroke="#222" stroke-width="1.0"/>
<line x1="683.3" y1="75.2" x2="687.6" y2="75.2" stroke="#222" stroke-width="1.3"/>
<line x1="685.2" y1="55.44" x2="687.6" y2="55.44" stroke="#222" stroke-width="1.0"/>
<line x1="685.2" y1="43.88" x2="687.6" y2="43.88" stroke="#222" stroke-width="1.0"/>
<text transform="translate(774.04 27.80) scale(0.9731 1)" font-size="35.80" font-family="Liberation Sans, sans-serif" fill="#1a1a1a" style="font-kerning:none"  stroke="#fff" stroke-width="0.5">PixArt</text>
<text transform="translate(744.35 284.80) scale(0.9637 1)" font-size="19.60" font-family="Liberation Sans, sans-serif" fill="#1a1a1a" style="font-kerning:none" >Energy Difference</text>
<defs><linearGradient id="g3" gradientUnits="userSpaceOnUse" x1="997.1" y1="0" x2="1262.5" y2="0">
<stop offset="0.00000" stop-color="#5fc2db"/><stop offset="0.01010" stop-color="#5fc2db"/>
<stop offset="0.01010" stop-color="#5ebfda"/><stop offset="0.02020" stop-color="#5ebfda"/>
<stop offset="0.02020" stop-color="#5dbcd8"/><stop offset="0.03030" stop-color="#5dbcd8"/>
<stop offset="0.03030" stop-color="#5cb9d6"/><stop offset="0.04040" stop-color="#5cb9d6"/>
<stop offset="0.04040" stop-color="#5bb6d5"/><stop offset="0.05051" stop-color="#5bb6d5"/>
<stop offset="0.05051" stop-color="#5ab3d3"/><stop offset="0.06061" stop-color="#5ab3d3"/>
<stop offset="0.06061" stop-color="#59b0d1"/><stop offset="0.07071" stop-color="#59b0d1"/>
<stop offset="0.07071" stop-color="#58add0"/><stop offset="0.08081" stop-color="#58add0"/>
<stop offset="0.08081" stop-color="#57aace"/><stop offset="0.09091" stop-color="#57aace"/>
<stop offset="0.09091" stop-color="#55a7cd"/><stop offset="0.10101" stop-color="#55a7cd"/>
<stop offset="0.10101" stop-color="#55a4cb"/><stop offset="0.11111" stop-color="#55a4cb"/>
<stop offset="0.11111" stop-color="#54a1ca"/><stop offset="0.12121" stop-color="#54a1ca"/>
<stop offset="0.12121" stop-color="#539ec8"/><stop offset="0.13131" stop-color="#539ec8"/>
<stop offset="0.13131" stop-color="#529ac7"/><stop offset="0.14141" stop-color="#529ac7"/>
<stop offset="0.14141" stop-color="#5297c5"/><stop offset="0.15152" stop-color="#5297c5"/>
<stop offset="0.15152" stop-color="#5194c4"/><stop offset="0.16162" stop-color="#5194c4"/>
<stop offset="0.16162" stop-color="#5091c2"/><stop offset="0.17172" stop-color="#5091c2"/>
<stop offset="0.17172" stop-color="#508dc0"/><stop offset="0.18182" stop-color="#508dc0"/>
<stop offset="0.18182" stop-color="#4f8abf"/><stop offset="0.19192" stop-color="#4f8abf"/>
<stop offset="0.19192" stop-color="#4e87bd"/><stop offset="0.20202" stop-color="#4e87bd"/>
<stop offset="0.20202" stop-color="#4e84bb"/><stop offset="0.21212" stop-color="#4e84bb"/>
<stop offset="0.21212" stop-color="#4f81b7"/><stop offset="0.22222" stop-color="#4f81b7"/>
<stop offset="0.22222" stop-color="#507db4"/><stop offset="0.23232" stop-color="#507db4"/>
<stop offset="0.23232" stop-color="#517ab1"/><stop offset="0.24242" stop-color="#517ab1"/>
<stop offset="0.24242" stop-color="#5177ad"/><stop offset="0.25253" stop-color="#5177ad"/>
<stop offset="0.25253" stop-color="#5274aa"/><stop offset="0.26263" stop-color="#5274aa"/>
<stop offset="0.26263" stop-color="#5370a7"/><stop offset="0.27273" stop-color="#5370a7"/>
<stop offset="0.27273" stop-color="#536da3"/><stop offset="0.28283" stop-color="#536da3"/>
<stop offset="0.28283" stop-color="#546aa0"/><stop offset="0.29293" stop-color="#546aa0"/>
<stop offset="0.29293" stop-color="#55679d"/><stop offset="0.30303" stop-color="#55679d"/>
<stop offset="0.30303" stop-color="#556499"/><stop offset="0.31313" stop-color="#556499"/>
<stop offset="0.31313" stop-color="#566196"/><stop offset="0.32323" stop-color="#566196"/>
<stop offset="0.32323" stop-color="#575e92"/><stop offset="0.33333" stop-color="#575e92"/>
<stop offset="0.33333" stop-color="#575c8f"/><stop offset="0.34343" stop-color="#575c8f"/>
<stop offset="0.34343" stop-color="#58598c"/><stop offset="0.35354" stop-color="#58598c"/>
<stop offset="0.35354" stop-color="#595688"/><stop offset="0.36364" stop-color="#595688"/>
<stop offset="0.36364" stop-color="#595385"/><stop offset="0.37374" stop-color="#595385"/>
<stop offset="0.37374" stop-color="#5a5181"/><stop offset="0.38384" stop-color="#5a5181"/>
<stop offset="0.38384" stop-color="#5a4e7e"/><stop offset="0.39394" stop-color="#5a4e7e"/>
<stop offset="0.39394" stop-color="#5b4b7a"/><stop offset="0.40404" stop-color="#5b4b7a"/>
<stop offset="0.40404" stop-color="#5a4876"/><stop offset="0.41414" stop-color="#5a4876"/>
<stop offset="0.41414" stop-color="#594472"/><stop offset="0.42424" stop-color="#594472"/>
<stop offset="0.42424" stop-color="#58406d"/><stop offset="0.43434" stop-color="#58406d"/>
<stop offset="0.43434" stop-color="#573c69"/><stop offset="0.44444" stop-color="#573c69"/>
<stop offset="0.44444" stop-color="#563864"/><stop offset="0.45455" stop-color="#563864"/>
<stop offset="0.45455" stop-color="#553660"/><stop offset="0.46465" stop-color="#553660"/>
<stop offset="0.46465" stop-color="#55335c"/><stop offset="0.47475" stop-color="#55335c"/>
<stop offset="0.47475" stop-color="#543058"/><stop offset="0.48485" stop-color="#543058"/>
<stop offset="0.48485" stop-color="#542e54"/><stop offset="0.49495" stop-color="#542e54"/>
<stop offset="0.49495" stop-color="#532b50"/><stop offset="0.50505" stop-color="#532b50"/>
<stop offset="0.50505" stop-color="#562b4e"/><stop offset="0.51515" stop-color="#562b4e"/>
<stop offset="0.51515" stop-color="#5a2b4c"/><stop offset="0.52525" stop-color="#5a2b4c"/>
<stop offset="0.52525" stop-color="#5d2b4a"/><stop offset="0.53535" stop-color="#5d2b4a"/>
<stop offset="0.53535" stop-color="#612b48"/><stop offset="0.54545" stop-color="#612b48"/>
<stop offset="0.54545" stop-color="#642b46"/><stop offset="0.55556" stop-color="#642b46"/>
<stop offset="0.55556" stop-color="#682d46"/><stop offset="0.56566" stop-color="#682d46"/>
<stop offset="0.56566" stop-color="#6c2f46"/><stop offset="0.57576" stop-color="#6c2f46"/>
<stop offset="0.57576" stop-color="#703146"/><stop offset="0.58586" stop-color="#703146"/>
<stop offset="0.58586" stop-color="#743246"/><stop offset="0.59596" stop-color="#743246"/>
<stop offset="0.59596" stop-color="#783446"/><stop offset="0.60606" stop-color="#783446"/>
<stop offset="0.60606" stop-color="#7d3845"/><stop offset="0.61616" stop-color="#7d3845"/>
<stop offset="0.61616" stop-color="#823b45"/><stop offset="0.62626" stop-color="#823b45"/>
<stop offset="0.62626" stop-color="#863e44"/><stop offset="0.63636" stop-color="#863e44"/>
<stop offset="0.63636" stop-color="#8b4143"/><stop offset="0.64646" stop-color="#8b4143"/>
<stop offset="0.64646" stop-color="#8f4442"/><stop offset="0.65657" stop-color="#8f4442"/>
<stop offset="0.65657" stop-color="#944842"/><stop offset="0.66667" stop-color="#944842"/>
<stop offset="0.66667" stop-color="#984b41"/><stop offset="0.67677" stop-color="#984b41"/>
<stop offset="0.67677" stop-color="#9d4e40"/><stop offset="0.68687" stop-color="#9d4e40"/>
<stop offset="0.68687" stop-color="#a15140"/><stop offset="0.69697" stop-color="#a15140"/>
<stop offset="0.69697" stop-color="#a6553f"/><stop offset="0.70707" stop-color="#a6553f"/>
<stop offset="0.70707" stop-color="#a9573f"/><stop offset="0.71717" stop-color="#a9573f"/>
<stop offset="0.71717" stop-color="#ac5a3e"/><stop offset="0.72727" stop-color="#ac5a3e"/>
<stop offset="0.72727" stop-color="#af5d3e"/><stop offset="0.73737" stop-color="#af5d3e"/>
<stop offset="0.73737" stop-color="#b2603e"/><stop offset="0.74747" stop-color="#b2603e"/>
<stop offset="0.74747" stop-color="#b5633d"/><stop offset="0.75758" stop-color="#b5633d"/>
<stop offset="0.75758" stop-color="#b8663d"/><stop offset="0.76768" stop-color="#b8663d"/>
<stop offset="0.76768" stop-color="#bc683d"/><stop offset="0.77778" stop-color="#bc683d"/>
<stop offset="0.77778" stop-color="#bf6b3d"/><stop offset="0.78788" stop-color="#bf6b3d"/>
<stop offset="0.78788" stop-color="#c26e3c"/><stop offset="0.79798" stop-color="#c26e3c"/>
<stop offset="0.79798" stop-color="#c5713c"/><stop offset="0.80808" stop-color="#c5713c"/>
<stop offset="0.80808" stop-color="#c7743c"/><stop offset="0.81818" stop-color="#c7743c"/>
<stop offset="0.81818" stop-color="#c9773c"/><stop offset="0.82828" stop-color="#c9773c"/>
<stop offset="0.82828" stop-color="#cb7b3d"/><stop offset="0.83838" stop-color="#cb7b3d"/>
<stop offset="0.83838" stop-color="#cd7e3d"/><stop offset="0.84848" stop-color="#cd7e3d"/>
<stop offset="0.84848" stop-color="#cf813d"/><stop offset="0.85859" stop-color="#cf813d"/>
<stop offset="0.85859" stop-color="#d1843d"/><stop offset="0.86869" stop-color="#d1843d"/>
<stop offset="0.86869" stop-color="#d3883d"/><stop offset="0.87879" stop-color="#d3883d"/>
<stop offset="0.87879" stop-color="#d68b3e"/><stop offset="0.88889" stop-color="#d68b3e"/>
<stop offset="0.88889" stop-color="#d88e3e"/><stop offset="0.89899" stop-color="#d88e3e"/>
<stop offset="0.89899" stop-color="#d9913e"/><stop offset="0.90909" stop-color="#d9913e"/>
<stop offset="0.90909" stop-color="#da9540"/><stop offset="0.91919" stop-color="#da9540"/>
<stop offset="0.91919" stop-color="#db9841"/><stop offset="0.92929" stop-color="#db9841"/>
<stop offset="0.92929" stop-color="#dc9b42"/><stop offset="0.93939" stop-color="#dc9b42"/>
<stop offset="0.93939" stop-color="#dd9e43"/><stop offset="0.94949" stop-color="#dd9e43"/>
<stop offset="0.94949" stop-color="#dea145"/><stop offset="0.95960" stop-color="#dea145"/>
<stop offset="0.95960" stop-color="#dfa546"/><stop offset="0.96970" stop-color="#dfa546"/>
<stop offset="0.96970" stop-color="#e0a847"/><stop offset="0.97980" stop-color="#e0a847"/>
<stop offset="0.97980" stop-color="#e1ab48"/><stop offset="0.98990" stop-color="#e1ab48"/>
<stop offset="0.98990" stop-color="#e2ae49"/><stop offset="1.00000" stop-color="#e2ae49"/>
</linearGradient></defs>
<path d="M997.1 236.4V208.2H999.78V236.4ZM1026.59 236.4V235H1029.27V236.4ZM1037.31 236.4V235H1039.99V236.4ZM1050.72 236.4V228H1053.4V236.4ZM1056.08 236.4V230.3H1058.76V236.4ZM1058.76 236.4V228H1061.44V236.4ZM1061.44 236.4V232.6H1064.12V236.4ZM1064.12 236.4V220H1066.8V236.4ZM1066.8 236.4V220H1069.48V236.4ZM1069.48 236.4V223H1072.16V236.4ZM1072.16 236.4V211.7H1074.84V236.4ZM1074.84 236.4V211.7H1077.52V236.4ZM1077.52 236.4V216.4H1080.21V236.4ZM1080.21 236.4V200.8H1082.89V236.4ZM1082.89 236.4V204.9H1085.57V236.4ZM1085.57 236.4V213.8H1088.25V236.4ZM1088.25 236.4V194.7H1090.93V236.4ZM1090.93 236.4V195.9H1093.61V236.4ZM1093.61 236.4V189.8H1096.29V236.4ZM1096.29 236.4V188H1098.97V236.4ZM1098.97 236.4V185.8H1101.65V236.4ZM1101.65 236.4V183.6H1104.33V236.4ZM1104.33 236.4V175.3H1107.01V236.4ZM1107.01 236.4V166.3H1109.69V236.4ZM1109.69 236.4V156.5H1112.37V236.4ZM1112.37 236.4V150H1115.06V236.4ZM1115.06 236.4V138.9H1117.74V236.4ZM1117.74 236.4V127.3H1120.42V236.4ZM1120.42 236.4V114.6H1123.1V236.4ZM1123.1 236.4V97.8H1125.78V236.4ZM1125.78 236.4V74.3H1128.46V236.4ZM1128.46 236.4V39.8H1131.14V236.4ZM1131.14 236.4V65.4H1133.82V236.4ZM1133.82 236.4V86.8H1136.5V236.4ZM1136.5 236.4V101.3H1139.18V236.4ZM1139.18 236.4V111.5H1141.86V236.4ZM1141.86 236.4V119.4H1144.54V236.4ZM1144.54 236.4V128.3H1147.23V236.4ZM1147.23 236.4V136.5H1149.91V236.4ZM1149.91 236.4V141.2H1152.59V236.4ZM1152.59 236.4V145.3H1155.27V236.4ZM1155.27 236.4V149.4H1157.95V236.4ZM1157.95 236.4V160.2H1160.63V236.4ZM1160.63 236.4V162.7H1163.31V236.4ZM1163.31 236.4V167.1H1165.99V236.4ZM1165.99 236.4V170.8H1168.67V236.4ZM1168.67 236.4V171.8H1171.35V236.4ZM1171.35 236.4V180H1174.03V236.4ZM1174.03 236.4V189.2H1176.71V236.4ZM1176.71 236.4V187.1H1179.39V236.4ZM1179.39 236.4V187H1182.08V236.4ZM1182.08 236.4V188.2H1184.76V236.4ZM1184.76 236.4V202H1187.44V236.4ZM1187.44 236.4V206.9H1190.12V236.4ZM1190.12 236.4V208.6H1192.8V236.4ZM1192.8 236.4V201.4H1195.48V236.4ZM1195.48 236.4V200.8H1198.16V236.4ZM1198.16 236.4V202H1200.84V236.4ZM1200.84 236.4V218.8H1203.52V236.4ZM1203.52 236.4V222.9H1206.2V236.4ZM1206.2 236.4V217.1H1208.88V236.4ZM1208.88 236.4V226.9H1211.56V236.4ZM1211.56 236.4V231H1214.25V236.4ZM1214.25 236.4V221.8H1216.93V236.4ZM1216.93 236.4V232.7H1219.61V236.4ZM1219.61 236.4V235.1H1222.29V236.4ZM1222.29 236.4V234.7H1224.97V236.4ZM1227.65 236.4V228H1230.33V236.4Z" fill="url(#g3)"/>
<line x1="1130.05" y1="236.4" x2="1130.05" y2="38.4" stroke="#111" stroke-width="1.25" stroke-dasharray="3.9,2.38" stroke-dashoffset="5.83"/>
<rect x="997.1" y="38.4" width="265.4" height="198" fill="none" stroke="#222" stroke-width="1.25"/>
<line x1="997.1" y1="236.4" x2="997.1" y2="240.6" stroke="#222" stroke-width="1.3"/>
<text transform="translate(978.61 259.30) scale(1.0000 1)" font-size="19.00" font-family="Liberation Sans, sans-serif" fill="#1a1a1a" style="font-kerning:none" >0.00</text>
<line x1="1063.45" y1="236.4" x2="1063.45" y2="240.6" stroke="#222" stroke-width="1.3"/>
<text transform="translate(1044.99 259.30) scale(1.0000 1)" font-size="19.00" font-family="Liberation Sans, sans-serif" fill="#1a1a1a" style="font-kerning:none" >0.25</text>
<line x1="1129.8" y1="236.4" x2="1129.8" y2="240.6" stroke="#222" stroke-width="1.3"/>
<text transform="translate(1111.31 259.30) scale(1.0000 1)" font-size="19.00" font-family="Liberation Sans, sans-serif" fill="#1a1a1a" style="font-kerning:none" >0.50</text>
<line x1="1196.15" y1="236.4" x2="1196.15" y2="240.6" stroke="#222" stroke-width="1.3"/>
<text transform="translate(1177.69 259.30) scale(1.0000 1)" font-size="19.00" font-family="Liberation Sans, sans-serif" fill="#1a1a1a" style="font-kerning:none" >0.75</text>
<line x1="1262.5" y1="236.4" x2="1262.5" y2="240.6" stroke="#222" stroke-width="1.3"/>
<text transform="translate(1243.66 259.30) scale(1.0000 1)" font-size="19.00" font-family="Liberation Sans, sans-serif" fill="#1a1a1a" style="font-kerning:none" >1.00</text>
<line x1="994.7" y1="232.62" x2="997.1" y2="232.62" stroke="#222" stroke-width="1.0"/>
<line x1="994.7" y1="226.26" x2="997.1" y2="226.26" stroke="#222" stroke-width="1.0"/>
<line x1="994.7" y1="221.06" x2="997.1" y2="221.06" stroke="#222" stroke-width="1.0"/>
<line x1="994.7" y1="216.67" x2="997.1" y2="216.67" stroke="#222" stroke-width="1.0"/>
<line x1="994.7" y1="212.86" x2="997.1" y2="212.86" stroke="#222" stroke-width="1.0"/>
<line x1="994.7" y1="209.5" x2="997.1" y2="209.5" stroke="#222" stroke-width="1.0"/>
<line x1="992.8" y1="206.5" x2="997.1" y2="206.5" stroke="#222" stroke-width="1.3"/>
<line x1="994.7" y1="186.74" x2="997.1" y2="186.74" stroke="#222" stroke-width="1.0"/>
<line x1="994.7" y1="175.18" x2="997.1" y2="175.18" stroke="#222" stroke-width="1.0"/>
<line x1="994.7" y1="166.97" x2="997.1" y2="166.97" stroke="#222" stroke-width="1.0"/>
<line x1="994.7" y1="160.61" x2="997.1" y2="160.61" stroke="#222" stroke-width="1.0"/>
<line x1="994.7" y1="155.41" x2="997.1" y2="155.41" stroke="#222" stroke-width="1.0"/>
<line x1="994.7" y1="151.02" x2="997.1" y2="151.02" stroke="#222" stroke-width="1.0"/>
<line x1="994.7" y1="147.21" x2="997.1" y2="147.21" stroke="#222" stroke-width="1.0"/>
<line x1="994.7" y1="143.85" x2="997.1" y2="143.85" stroke="#222" stroke-width="1.0"/>
<line x1="992.8" y1="140.85" x2="997.1" y2="140.85" stroke="#222" stroke-width="1.3"/>
<line x1="994.7" y1="121.09" x2="997.1" y2="121.09" stroke="#222" stroke-width="1.0"/>
<line x1="994.7" y1="109.53" x2="997.1" y2="109.53" stroke="#222" stroke-width="1.0"/>
<line x1="994.7" y1="101.32" x2="997.1" y2="101.32" stroke="#222" stroke-width="1.0"/>
<line x1="994.7" y1="94.96" x2="997.1" y2="94.96" stroke="#222" stroke-width="1.0"/>
<line x1="994.7" y1="89.76" x2="997.1" y2="89.76" stroke="#222" stroke-width="1.0"/>
<line x1="994.7" y1="85.37" x2="997.1" y2="85.37" stroke="#222" stroke-width="1.0"/>
<line x1="994.7" y1="81.56" x2="997.1" y2="81.56" stroke="#222" stroke-width="1.0"/>
<line x1="994.7" y1="78.2" x2="997.1" y2="78.2" stroke="#222" stroke-width="1.0"/>
<line x1="992.8" y1="75.2" x2="997.1" y2="75.2" stroke="#222" stroke-width="1.3"/>
<line x1="994.7" y1="55.44" x2="997.1" y2="55.44" stroke="#222" stroke-width="1.0"/>
<line x1="994.7" y1="43.88" x2="997.1" y2="43.88" stroke="#222" stroke-width="1.0"/>
<text transform="translate(1049.66 27.90) scale(0.9663 1)" font-size="35.80" font-family="Liberation Sans, sans-serif" fill="#1a1a1a" style="font-kerning:none"  stroke="#fff" stroke-width="0.5">Kandinsky</text>
<text transform="translate(1053.85 284.80) scale(0.9637 1)" font-size="19.60" font-family="Liberation Sans, sans-serif" fill="#1a1a1a" style="font-kerning:none" >Energy Difference</text>
<text transform="translate(36.34 84.00) scale(1.0082 1)" font-size="19.00" font-family="Liberation Sans, sans-serif" fill="#1a1a1a" style="font-kerning:none" >10</text>
<text transform="translate(55.31 77.40) scale(1.0000 1)" font-size="12.80" font-family="Liberation Sans, sans-serif" fill="#1a1a1a" style="font-kerning:none" >1</text>
<text transform="translate(34.20 149.60) scale(1.0346 1)" font-size="19.00" font-family="Liberation Sans, sans-serif" fill="#1a1a1a" style="font-kerning:none" >10</text>
<text transform="translate(54.88 143.10) scale(1.0000 1)" font-size="12.80" font-family="Liberation Sans, sans-serif" fill="#1a1a1a" style="font-kerning:none" >0</text>
<text transform="translate(27.43 214.40) scale(1.0135 1)" font-size="19.00" font-family="Liberation Sans, sans-serif" fill="#1a1a1a" style="font-kerning:none" >10</text>
<text transform="translate(48.03 208.00) scale(1.0000 1)" font-size="12.80" font-family="Liberation Sans, sans-serif" fill="#1a1a1a" style="font-kerning:none" >−1</text>
<text transform="translate(18.2 171.34) rotate(-90) scale(0.9724 1)" font-size="19.30" font-family="Liberation Sans, sans-serif" fill="#1a1a1a" style="font-kerning:none">Density</text>
<defs><linearGradient id="cb" x1="0" y1="1" x2="0" y2="0">
<stop offset="0.0" stop-color="#60c4dc"/>
<stop offset="0.1" stop-color="#55a6cc"/>
<stop offset="0.2" stop-color="#4e86bd"/>
<stop offset="0.3" stop-color="#55669c"/>
<stop offset="0.4" stop-color="#5b4b7a"/>
<stop offset="0.45" stop-color="#563864"/>
<stop offset="0.5" stop-color="#532b50"/>
<stop offset="0.55" stop-color="#642b46"/>
<stop offset="0.6" stop-color="#783446"/>
<stop offset="0.7" stop-color="#a5543f"/>
<stop offset="0.8" stop-color="#c4703c"/>
<stop offset="0.9" stop-color="#d9903e"/>
<stop offset="1.0" stop-color="#e3b04a"/>
</linearGradient></defs>
<rect x="1292.4" y="36.6" width="33.8" height="198.8" fill="url(#cb)" stroke="#333" stroke-opacity="0.75" stroke-width="0.8"/>
<line x1="1326.2" y1="235.4" x2="1329.8" y2="235.4" stroke="#222" stroke-width="1.2"/>
<text transform="translate(1329.70 242.30) scale(1.0000 1)" font-size="19.00" font-family="Liberation Sans, sans-serif" fill="#1a1a1a" style="font-kerning:none" >0.0</text>
<line x1="1326.2" y1="195.64" x2="1329.8" y2="195.64" stroke="#222" stroke-width="1.2"/>
<text transform="translate(1329.70 202.54) scale(1.0000 1)" font-size="19.00" font-family="Liberation Sans, sans-serif" fill="#1a1a1a" style="font-kerning:none" >0.2</text>
<line x1="1326.2" y1="155.88" x2="1329.8" y2="155.88" stroke="#222" stroke-width="1.2"/>
<text transform="translate(1329.70 162.78) scale(1.0000 1)" font-size="19.00" font-family="Liberation Sans, sans-serif" fill="#1a1a1a" style="font-kerning:none" >0.4</text>
<line x1="1326.2" y1="116.12" x2="1329.8" y2="116.12" stroke="#222" stroke-width="1.2"/>
<text transform="translate(1329.70 123.02) scale(1.0000 1)" font-size="19.00" font-family="Liberation Sans, sans-serif" fill="#1a1a1a" style="font-kerning:none" >0.6</text>
<line x1="1326.2" y1="76.36" x2="1329.8" y2="76.36" stroke="#222" stroke-width="1.2"/>
<text transform="translate(1329.70 83.26) scale(1.0000 1)" font-size="19.00" font-family="Liberation Sans, sans-serif" fill="#1a1a1a" style="font-kerning:none" >0.8</text>
<line x1="1326.2" y1="36.6" x2="1329.8" y2="36.6" stroke="#222" stroke-width="1.2"/>
<text transform="translate(1330.40 43.50) scale(1.0000 1)" font-size="19.00" font-family="Liberation Sans, sans-serif" fill="#1a1a1a" style="font-kerning:none" >1.0</text>
</svg>
</body></html>
